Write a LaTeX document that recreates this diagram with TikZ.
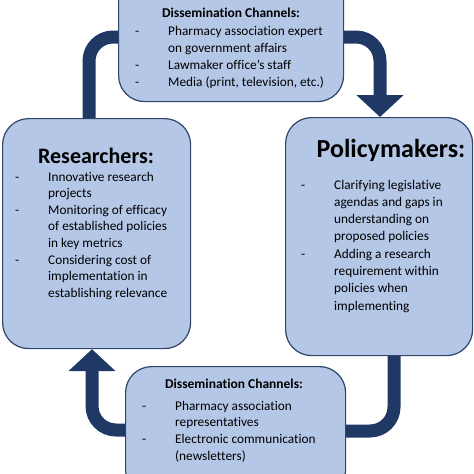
\documentclass[tikz,border=0pt]{standalone}
\usepackage{fontspec}
\setmainfont{Carlito}[Ligatures=NoCommon]
\usetikzlibrary{arrows.meta}

\definecolor{boxblue}{HTML}{B4C7E7}
\definecolor{boxline}{HTML}{2F4468}
\definecolor{navy}{HTML}{1F3864}

\tikzset{
  box/.style={draw=boxline,line width=1.2pt,fill=boxblue,rounded corners=26pt,inner sep=0pt,anchor=north west},
  flow/.style={draw=navy,line width=13pt,rounded corners=24pt},
  flowtip/.style={flow,-{Triangle[length=22pt,width=46pt]}},
  head/.style={font=\bfseries\fontsize{13.5}{17}\selectfont,anchor=base,inner sep=0pt},
  bighead/.style={font=\bfseries\fontsize{#1}{26}\selectfont,anchor=base,inner sep=0pt},
  bighead/.default=22,
  items/.style={font=\fontsize{13.3}{#1}\selectfont,anchor=base west,inner sep=0pt},
  items/.default=17
}
\newcommand{\dashlist}[1]{\begin{tabular}[t]{@{}p{33pt}@{}l@{}}#1\end{tabular}}

\begin{document}
\begin{tikzpicture}[x=1pt,y=-1pt]
\useasboundingbox (0,0) rectangle (474,474);

% boxes
\node[box,minimum width=225pt,minimum height=131pt] (chanTop) at (118,-30) {};
\node[box,minimum width=188pt,minimum height=230pt] (res) at (2,118) {};
\node[box,minimum width=187pt,minimum height=238pt] (pol) at (285,117) {};
\node[box,minimum width=220pt,minimum height=130pt] (chanBot) at (125,366) {};

% top channels
\node[head] (topHead) at (231,17) {Dissemination Channels:};
\node[items] (topList) at (135,35) {\dashlist{-&Pharmacy association expert\\
 &on government affairs\\
 -&Lawmaker office’s staff\\
 -&Media (print, television, etc.)}};

% researchers
\node[bighead] (resHead) at (96,163) {Researchers:};
\node[items=16.6] (resList) at (15,181) {\dashlist{-&Innovative research\\
 &projects\\
 -&Monitoring of efficacy\\
 &of established policies\\
 &in key metrics\\
 -&Considering cost of\\
 &implementation in\\
 &establishing relevance}};

% policymakers
\node[bighead=26] (polHead) at (391,157) {Policymakers:};
\node[items=17.3] (polList) at (301,189) {\dashlist{-&Clarifying legislative\\
 &agendas and gaps in\\
 &understanding on\\
 &proposed policies\\
 -&Adding a research\\
 &requirement within\\
 &policies when\\
 &implementing}};

% bottom channels
\node[head] (botHead) at (234,388) {Dissemination Channels:};
\node[items=16.7] (botList) at (142,410) {\dashlist{-&Pharmacy association\\
 &representatives\\
 -&Electronic communication\\
 &(newsletters)}};

% cycle
\draw[flow] (res.north -| 89,0) |- (chanTop.west |- 0,37);
\draw[flowtip] (chanTop.east |- 0,37) -| (pol.north -| 380,0);
\draw[flow] (pol.south -| 394,0) |- (chanBot.east |- 0,431);
\draw[flowtip] (chanBot.west |- 0,430) -| (res.south -| 92,0);
\end{tikzpicture}
\end{document}
